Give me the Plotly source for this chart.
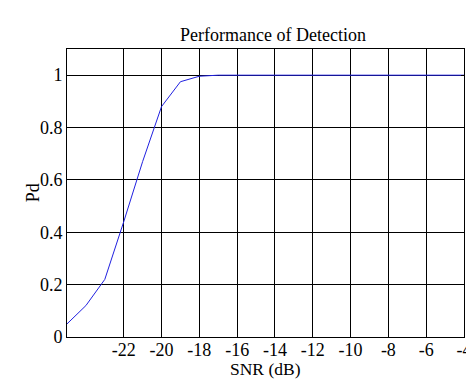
import plotly.graph_objects as go

snr_db = [-25, -24, -23, -22, -21, -20, -19, -18, -17, -16, -15, -14, -13, -12,
          -11, -10, -9, -8, -7, -6, -5, -4]
pd_vals = [0.05, 0.12, 0.22, 0.44, 0.67, 0.88, 0.975, 0.996, 1.0, 1.0, 1.0, 1.0,
           1.0, 1.0, 1.0, 1.0, 1.0, 1.0, 1.0, 1.0, 1.0, 1.0]
x_ticks = [-22, -20, -18, -16, -14, -12, -10, -8, -6, -4]
x_tick_text = ["-22", "-20", "-18", "-16", "-14", "-12", "-10", "-8", "-6", "-4"]
y_ticks = [0, 0.2, 0.4, 0.6, 0.8, 1]
y_tick_text = ["0", "0.2", "0.4", "0.6", "0.8", "1"]

# page body has an 8px margin; figure is sized so plot lands where reference has it
W, H = 466, 374
L, R, T, B = 59, 2, 41, 45
PW, PH = W - L - R, H - T - B

fig = go.Figure()
fig.add_trace(go.Scatter(x=snr_db, y=pd_vals, mode="lines",
                         line=dict(color="#2020e0", width=1)))

def f(size=18):
    return dict(family="Liberation Serif", size=size, color="black")

def axis_common():
    return dict(showline=True, linecolor="black", linewidth=1, mirror="ticks",
                ticks="inside", ticklen=3, tickcolor="black",
                showgrid=True, gridcolor="black", gridwidth=1, zeroline=False,
                tickfont=f(), ticklabeloverflow="allow")

fig.update_layout(
    width=W, height=H,
    margin=dict(l=L, r=R, t=T, b=B),
    paper_bgcolor="white", plot_bgcolor="white",
    showlegend=False,
    font=f(),
    title=dict(text="Performance of Detection", x=265 / W, xanchor="center",
               y=1 - 27 / H, yanchor="middle", font=f()),
    xaxis=dict(range=[-25, -4], tickvals=x_ticks, ticktext=x_tick_text,
               ticklabelstandoff=-4, **axis_common()),
    yaxis=dict(range=[0, 1.1], tickvals=y_ticks, ticktext=y_tick_text, **axis_common()),
    annotations=[
        dict(text="SNR (dB)", xref="paper", yref="paper",
             x=(262 - L) / PW, y=1 - (361 - T) / PH,
             xanchor="center", yanchor="middle", showarrow=False, font=f(17.5)),
        dict(text="Pd", xref="paper", yref="paper", textangle=-90,
             x=(24.5 - L) / PW, y=1 - (185 - T) / PH,
             xanchor="center", yanchor="middle", showarrow=False, font=f()),
    ],
)

fig.write_html("out.html")
